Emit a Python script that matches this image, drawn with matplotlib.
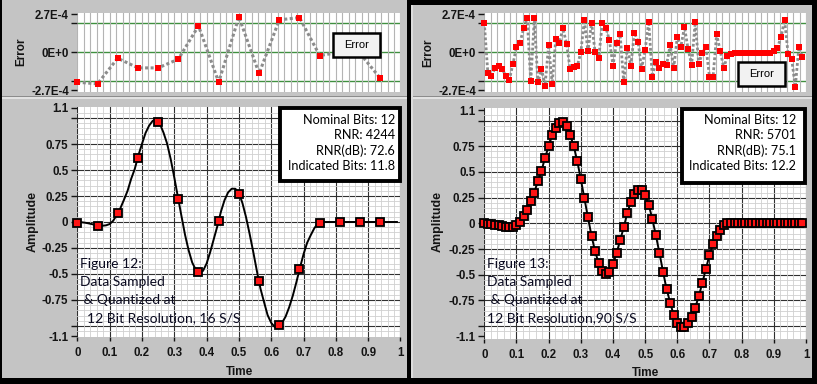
import numpy as np
import matplotlib.pyplot as plt
from matplotlib.patches import Rectangle
from matplotlib.ticker import MultipleLocator

plt.rcParams['font.family'] = ['Liberation Sans', 'DejaVu Sans']

W, H = 817, 384
PANEL = '#c4c4c4'
INK = '#141414'
CAPTION = '#0a0a20'

# test signal sampled at 90 S/S (also drawn as the continuous curve)
signal_90 = [0.0, -0.002, -0.006, -0.012, -0.020, -0.028, -0.034, -0.036, -0.032, -0.020,
             0.012, 0.068, 0.133, 0.214, 0.300, 0.415, 0.510, 0.640, 0.750, 0.856,
             0.927, 0.973, 0.982, 0.944, 0.860, 0.755, 0.606, 0.430, 0.243, 0.058,
             -0.123, -0.272, -0.390, -0.460, -0.488, -0.470, -0.400, -0.290, -0.165, -0.040,
             0.100, 0.210, 0.285, 0.320, 0.320, 0.280, 0.180, 0.045, -0.117, -0.288,
             -0.470, -0.640, -0.770, -0.896, -0.970, -1.010, -1.010, -0.970, -0.910, -0.820,
             -0.710, -0.580, -0.440, -0.310, -0.200, -0.127, -0.060, -0.013, 0.0, 0.0,
             0.0, 0.0, 0.0, 0.0, 0.0, 0.0, 0.0, 0.0, 0.0, 0.0,
             0.0, 0.0, 0.0, 0.0, 0.0, 0.0, 0.0, 0.0, 0.0, 0.0]

# quantization error at 90 S/S, in units of 1e-4
error_90 = [2.12, -1.50, -1.69, -1.14, -0.98, -1.19, -1.69, -1.97, -0.86, 0.38,
            0.69, 1.71, 2.43, -2.09, 2.43, -2.16, -1.19, -2.38, 0.52, -2.28,
            0.95, 0.69, 1.71, 0.62, -1.19, -1.07, -1.02, 0.00, 2.31, 0.05,
            2.12, 0.00, -0.43, 2.05, 1.76, 0.86, -0.95, 0.69, 1.28, -2.16,
            0.33, -0.95, 1.40, 0.76, -1.19, 0.17, 2.19, -1.76, -0.67, -1.14,
            -0.81, -0.90, 0.52, -1.14, 1.12, 0.40, 1.81, 0.24, -0.90, 2.14,
            -0.81, -0.07, 0.40, -1.76, -1.74, 1.28, 0.10, -1.14, -0.24, -0.12,
            -0.08, -0.08, -0.07, -0.07, -0.06, -0.06, -0.05, -0.05, -0.04, -0.04,
            -0.03, 0.10, 0.33, 1.05, 2.31, -0.14, -0.48, -2.50, 0.36, -0.31]

# 16 S/S samples and their error (1e-4)
samples_16 = [-0.01, -0.035, 0.087, 0.62, 0.96, 0.22, -0.48, 0.01,
              0.27, -0.57, -0.99, -0.45, -0.01, 0.0, 0.0, 0.0]
error_16 = [-2.14, -2.26, -0.43, -1.12, -1.12, -0.50, 1.88, -2.14,
            2.52, -1.52, 2.31, 2.47, -0.24, 0.0, -0.10, -1.86]

amp_ticks = [-1.1, -1.0, -0.75, -0.5, -0.25, 0, 0.25, 0.5, 0.75, 1.0, 1.1]
amp_labels = ['-1.1', '', '-0.75', '-0.5', '-0.25', '0', '0.25', '0.5', '0.75', '', '1.1']
amp_grid = [-1.0, -0.75, -0.5, -0.25, 0, 0.25, 0.5, 0.75, 1.0]
time_ticks = [0, 0.1, 0.2, 0.3, 0.4, 0.5, 0.6, 0.7, 0.8, 0.9, 1.0]
time_labels = ['0', '0.1', '0.2', '0.3', '0.4', '0.5', '0.6', '0.7', '0.8', '0.9', '1']
err_ticks = [-2.7e-4, -2.07e-4, 0, 2.07e-4, 2.7e-4]
err_labels = ['-2.7E-4', '', '0E+0', '', '2.7E-4']
err_bands = [-2.07e-4, 0, 2.07e-4]

stats_12 = ['Nominal Bits: 12', 'RNR: 4244', 'RNR(dB): 72.6', 'Indicated Bits: 11.8']
stats_13 = ['Nominal Bits: 12', 'RNR: 5701', 'RNR(dB): 75.1', 'Indicated Bits: 12.2']
caption_12 = ['Figure 12:', 'Data Sampled', ' & Quantized at', '  12 Bit Resolution, 16 S/S']
caption_13 = ['Figure 13:', 'Data Sampled', ' & Quantized at', '12 Bit Resolution,90 S/S']


def fx(x):
    return x / W


def fy(y):
    return 1 - y / H


def px_axes(fig, x0, y0, x1, y1):
    return fig.add_axes([fx(x0), fy(y1), (x1 - x0) / W, (y1 - y0) / H])


def px_rect(fig, x0, y0, x1, y1, **kw):
    r = Rectangle((fx(x0), fy(y1)), (x1 - x0) / W, (y1 - y0) / H,
                  transform=fig.transFigure, **kw)
    fig.add_artist(r)
    return r


def bold_ticks(ax):
    for lab in ax.get_xticklabels() + ax.get_yticklabels():
        lab.set_fontweight('bold')


def style_error(ax):
    ax.set_xlim(0, 1)
    ax.set_ylim(-2.82e-4, 2.82e-4)
    ax.set_facecolor('white')
    ax.xaxis.set_minor_locator(MultipleLocator(0.02))
    ax.set_xticks([])
    ax.grid(which='minor', axis='x', color='#b4b4b4', lw=0.8)
    for b in err_bands:
        ax.axhline(b, color='#3f8f3f', lw=1.0, zorder=1.5)
    ax.set_yticks(err_ticks)
    ax.set_yticklabels(err_labels)
    ax.tick_params(axis='y', length=4, width=1, pad=2, labelsize=8.3, colors=INK)
    ax.tick_params(which='minor', length=0)
    for s in ax.spines.values():
        s.set_visible(False)
    bold_ticks(ax)


def style_main(ax, lim):
    ax.set_xlim(0, 1)
    ax.set_ylim(-lim, lim)
    ax.set_facecolor('white')
    ax.xaxis.set_minor_locator(MultipleLocator(0.02))
    ax.yaxis.set_minor_locator(MultipleLocator(0.05))
    ax.grid(which='minor', color='#d0d0d0', lw=0.6)
    for g in amp_grid:
        ax.axhline(g, color='#303030', lw=0.8, zorder=1.2)
    for t in time_ticks:
        ax.axvline(t, color='#303030', lw=0.8, zorder=1.2)
    ax.set_yticks(amp_ticks)
    ax.set_yticklabels(amp_labels)
    ax.set_xticks(time_ticks)
    ax.set_xticklabels(time_labels)
    ax.tick_params(axis='y', length=4, width=1, pad=2.5, labelsize=8.3, colors=INK)
    ax.tick_params(axis='x', length=3, width=1, pad=4, labelsize=8.3, colors=INK)
    ax.tick_params(which='minor', length=0)
    for s in ax.spines.values():
        s.set_visible(False)
    bold_ticks(ax)


fig = plt.figure(figsize=(W / 100, H / 100), dpi=100, facecolor=PANEL)

# panel frames
px_rect(fig, 0, 0, 2, H, color='black', lw=0)
px_rect(fig, 0, 378, W, H, color='black', lw=0)
px_rect(fig, 406.7, 0, W, 4.5, color='black', lw=0)
px_rect(fig, 406.7, 0, 411, H, color='black', lw=0)
px_rect(fig, 812, 0, W, H, color='black', lw=0)
px_rect(fig, 411, 4.5, 413, 378, color='#dcdcdc', lw=0)
for x0, x1 in [(2, 406.7), (413, 812)]:
    px_rect(fig, x0, 96, x1, 97, color='#8c8c8c', lw=0)
    px_rect(fig, x0, 97, x1, 99, color='#e2e2e2', lw=0)

t16 = np.arange(16) / 16
t90 = np.arange(90) / 90

# ---- left panel: 16 S/S ----
ax = px_axes(fig, 77.3, 12.7, 400.5, 91.7)
style_error(ax)
ax.plot(t16, np.array(error_16) * 1e-4, color='#8c8c8c', lw=2.2, ls=(0, (1, 0.8)), zorder=2)
ax.plot(t16, np.array(error_16) * 1e-4, 's', color='#ff0000', ms=4.6, mew=0, zorder=3,
        clip_on=False)

ax = px_axes(fig, 77.3, 106.7, 400.5, 337.3)
style_main(ax, 1.109)
ax.plot(t90, signal_90, color='black', lw=1.4, zorder=2)
ax.plot(t16, samples_16, 's', mfc='#ff1414', mec='black', mew=1.3, ms=5.2, zorder=3,
        clip_on=False)

# ---- right panel: 90 S/S ----
ax = px_axes(fig, 484.3, 12.7, 806, 91.7)
style_error(ax)
ax.plot(t90, np.array(error_90) * 1e-4, color='#8c8c8c', lw=2.0, ls=(0, (1, 0.8)), zorder=2)
ax.plot(t90, np.array(error_90) * 1e-4, 's', color='#ff0000', ms=4.6, mew=0, zorder=3,
        clip_on=False)

ax = px_axes(fig, 484.3, 107.7, 806, 339)
style_main(ax, 1.125)
ax.plot(t90, signal_90, color='black', lw=1.4, zorder=2)
ax.plot(t90, signal_90, 's', mfc='#ff1414', mec='black', mew=1.3, ms=5.4, zorder=3,
        clip_on=False)

# axis titles
lab = dict(fontsize=8.5, fontweight='bold', color=INK, ha='center', va='center')
fig.text(fx(21), fy(52), 'Error', rotation=90, **lab)
fig.text(fx(428), fy(53), 'Error', rotation=90, **lab)
fig.text(fx(33), fy(222), 'Amplitude', rotation=90, **dict(lab, fontsize=9))
fig.text(fx(438), fy(222), 'Amplitude', rotation=90, **dict(lab, fontsize=9))
fig.text(fx(239), fy(372), 'Time', **lab)
fig.text(fx(645), fy(373), 'Time', **lab)

# "Error" legend boxes
for x0, y0 in [(333, 33), (738, 62)]:
    px_rect(fig, x0, y0, x0 + 47, y0 + 24, facecolor='#f2f2f2', edgecolor='black', lw=1.8,
            zorder=4)
    fig.text(fx(x0 + 23.5), fy(y0 + 12), 'Error', fontsize=8, color='black',
             ha='center', va='center', zorder=5)

# stats boxes
for (x0, y0, x1, y1, xr), lines in [((280.2, 108.2, 399.5, 180.8, 395), stats_12),
                                    ((681.5, 109.2, 804.5, 183.5, 796), stats_13)]:
    px_rect(fig, x0, y0, x1, y1, facecolor='white', edgecolor='black', lw=2.8, zorder=4)
    for i, s in enumerate(lines):
        fig.text(fx(xr), fy(124 + 15.3 * i), s, fontsize=9.1, family=['Lato', 'DejaVu Sans'],
                 color='black', ha='right', va='baseline', zorder=5)

# figure captions
for x0, lines in [(80, caption_12), (486.7, caption_13)]:
    for i, s in enumerate(lines):
        fig.text(fx(x0), fy(268.3 + 17.9 * i), s, fontsize=10, family=['Lato', 'DejaVu Sans'],
                 color=CAPTION, ha='left', va='baseline', zorder=5)

fig.savefig('out.png', dpi=100, facecolor=fig.get_facecolor())
